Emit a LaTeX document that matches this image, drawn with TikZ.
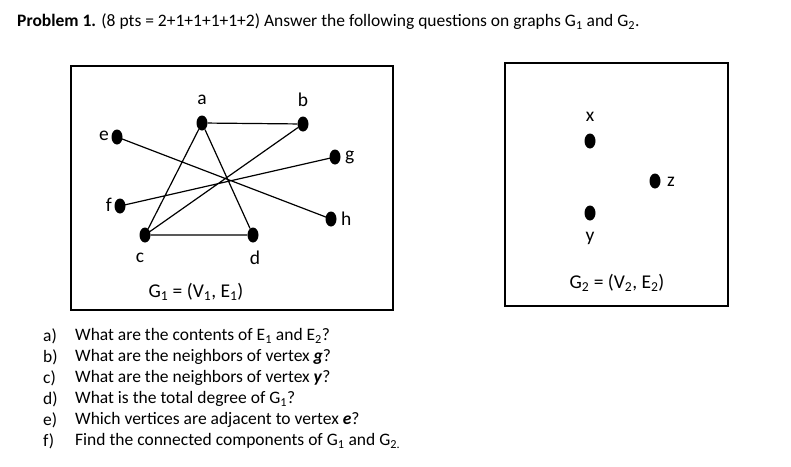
\documentclass[tikz,border=0pt]{standalone}
\usepackage{fontspec}
\setmainfont{Carlito}
\usetikzlibrary{shapes.geometric}
\newcommand{\sbs}[1]{\textsubscript{#1}}
\begin{document}
\begin{tikzpicture}[x=1pt,y=-1pt,
  vtx/.style={ellipse,fill=black,minimum width=11pt,minimum height=15pt,inner sep=0pt},
  lbl/.style={font=\fontsize{19.5}{22}\selectfont,inner sep=0pt},
  txt/.style={font=\fontsize{17.5}{20}\selectfont,inner sep=0pt,anchor=west},
  edge/.style={line width=1.2pt}]
\useasboundingbox (0,0) rectangle (791,466);
\node[txt] (title) at (17,22) {\textbf{Problem 1.} (8 pts = 2+1+1+1+1+2) Answer the following questions on graphs G\sbs{1} and G\sbs{2}.};
\draw[line width=1.2pt] (71,66) rectangle (393,310);
\draw[line width=1.2pt] (505,63) rectangle (728,306);
\node[vtx] (a) at (202,123) {};
\node[vtx] (b) at (303,124) {};
\node[vtx] (e) at (117,137) {};
\node[vtx] (g) at (335,157) {};
\node[vtx] (f) at (120,206) {};
\node[vtx] (h) at (331,219) {};
\node[vtx] (c) at (145,235) {};
\node[vtx] (d) at (253,235) {};
\draw[edge] (a)--(b) (a)--(c) (a)--(d) (c)--(d) (c.center)--(b) (e.center)--(h.center) (f.center)--(g.center);
\node[lbl] (la) at (202,100) {a};
\node[lbl] (lb) at (303,100) {b};
\node[lbl,anchor=east] (le) at (109,136) {e};
\node[lbl,anchor=west] (lg) at (345,157) {g};
\node[lbl,anchor=east] (lf) at (112,205) {f};
\node[lbl,anchor=west] (lh) at (341,219) {h};
\node[lbl] (lc) at (140,258) {c};
\node[lbl] (ld) at (255,258) {d};
\node[lbl] (G1) at (196,292) {G\sbs{1} = (V\sbs{1}, E\sbs{1})};
\node[vtx] (x) at (590,141) {};
\node[vtx] (z) at (655,181) {};
\node[vtx] (y) at (590,213) {};
\node[lbl] (lx) at (590,117) {x};
\node[lbl,anchor=west] (lz) at (667,182) {z};
\node[lbl] (ly) at (590,238) {y};
\node[lbl] (G2) at (617,283) {G\sbs{2} = (V\sbs{2}, E\sbs{2})};
\node[txt] (ma) at (43,336) {a)};
\node[txt] (mb) at (43,357) {b)};
\node[txt] (mc) at (43,378) {c)};
\node[txt] (md) at (43,399) {d)};
\node[txt] (me) at (43,420) {e)};
\node[txt] (mf) at (43,441) {f)};
\node[txt] (qa) at (75,336) {What are the contents of E\sbs{1} and E\sbs{2}?};
\node[txt] (qb) at (75,357) {What are the neighbors of vertex \textbf{\textit{g}}?};
\node[txt] (qc) at (75,378) {What are the neighbors of vertex \textbf{\textit{y}}?};
\node[txt] (qd) at (75,399) {What is the total degree of G\sbs{1}?};
\node[txt] (qe) at (75,420) {Which vertices are adjacent to vertex \textbf{\textit{e}}?};
\node[txt] (qf) at (75,441) {Find the connected components of G\sbs{1} and G\sbs{2.}};
\end{tikzpicture}
\end{document}
